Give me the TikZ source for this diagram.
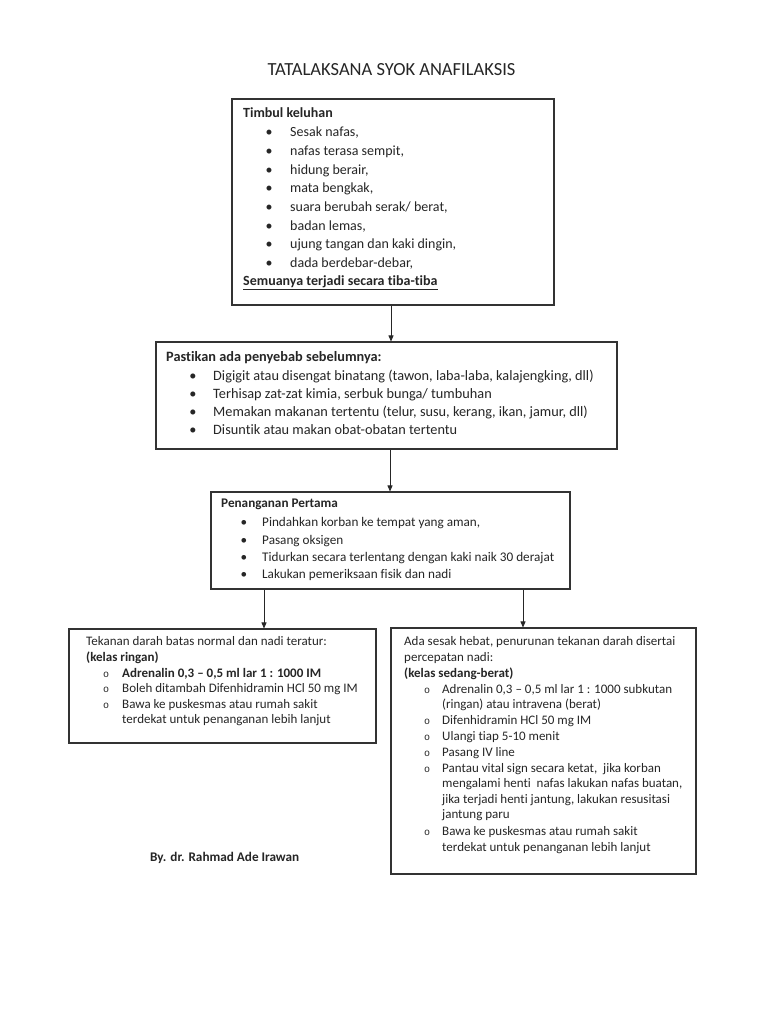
\documentclass[tikz,border=0pt]{standalone}
\usepackage{fontspec}
\setmainfont{Carlito}[Ligatures=NoCommon]
\newfontfamily\monof{Liberation Mono}
\usetikzlibrary{arrows.meta}
\tikzset{
  box/.style={draw=black!80, line width=1.1pt, fill=white, inner sep=0pt},
  txt/.style={anchor=base west, inner sep=0pt, text=black!85},
  bul/.style={anchor=base, inner sep=0pt, text=black!85},
  arr/.style={draw=black!85, line width=0.8pt, -{Triangle[length=6pt,width=5pt]}},
}
\newcommand\Ln[4]{\node[txt] (#1) at (#2,#3) {#4};}
\newcommand\Bl[5]{\node[bul] (#1b) at (#2,#4) {•}; \node[txt] (#1) at (#3,#4) {#5};}
\newcommand\Cl[5]{\node[bul] (#1b) at (#2,#4) {\monof\fontsize{10}{10}\selectfont o}; \node[txt] (#1) at (#3,#4) {#5};}
\begin{document}
\begin{tikzpicture}[x=1pt,y=-1pt]
\useasboundingbox[fill=white] (0,0) rectangle (768,1024);
% title
\node[anchor=base, inner sep=0pt, text=black!85] (title) at (391.5,76) {\fontsize{18.5}{22}\selectfont TATALAKSANA SYOK ANAFILAKSIS};
% boxes
\node[box, minimum width=322pt, minimum height=206pt] (b1) at (393,202) {};
\node[box, minimum width=461pt, minimum height=107pt] (b2) at (386.5,395.5) {};
\node[box, minimum width=359pt, minimum height=97pt] (b3) at (390.5,540.5) {};
\node[box, minimum width=307pt, minimum height=114pt] (b4) at (222.5,686) {};
\node[box, minimum width=305pt, minimum height=246pt] (b5) at (543.5,751) {};
% arrows
\coordinate (a1) at (391,0);
\coordinate (a2) at (390,0);
\coordinate (a3) at (264,0);
\coordinate (a4) at (523,0);
\draw[arr] (b1.south -| a1) -- (b2.north -| a1);
\draw[arr] (b2.south -| a2) -- (b3.north -| a2);
\draw[arr] (b3.south -| a3) -- (b4.north -| a3);
\draw[arr] (b3.south -| a4) -- (b5.north -| a4);
% box 1
\begin{scope}[font=\fontsize{14}{17}\selectfont]
\Ln{t1}{243}{118}{\bfseries Timbul keluhan}
\Bl{t1a}{269}{290}{137}{Sesak nafas,}
\Bl{t1b}{269}{290}{156}{nafas terasa sempit,}
\Bl{t1c}{269}{290}{174.5}{hidung berair,}
\Bl{t1d}{269}{290}{193}{mata bengkak,}
\Bl{t1e}{269}{290}{211.5}{suara berubah serak/ berat,}
\Bl{t1f}{269}{290}{230}{badan lemas,}
\Bl{t1g}{269}{290}{248.5}{ujung tangan dan kaki dingin,}
\Bl{t1h}{269}{290}{267}{dada berdebar-debar,}
\Ln{t1i}{243}{285}{\bfseries\underline{Semuanya terjadi secara tiba-tiba}}
\end{scope}
% box 2
\begin{scope}[font=\fontsize{14.3}{17}\selectfont]
\Ln{t2}{166}{361}{\bfseries Pastikan ada penyebab sebelumnya:}
\Bl{t2a}{193}{213}{380}{Digigit atau disengat binatang (tawon, laba-laba, kalajengking, dll)}
\Bl{t2b}{193}{213}{398}{Terhisap zat-zat kimia, serbuk bunga/ tumbuhan}
\Bl{t2c}{193}{213}{416}{Memakan makanan tertentu (telur, susu, kerang, ikan, jamur, dll)}
\Bl{t2d}{193}{213}{434}{Disuntik atau makan obat-obatan tertentu}
\end{scope}
% box 3
\begin{scope}[font=\fontsize{13.2}{16}\selectfont]
\Ln{t3}{221}{507}{\bfseries Penanganan Pertama}
\Bl{t3a}{244}{262}{526}{Pindahkan korban ke tempat yang aman,}
\Bl{t3b}{244}{262}{544}{Pasang oksigen}
\Bl{t3c}{244}{262}{561}{Tidurkan secara terlentang dengan kaki naik 30 derajat}
\Bl{t3d}{244}{262}{578}{Lakukan pemeriksaan fisik dan nadi}
\end{scope}
% box 4
\begin{scope}[font=\fontsize{13}{16}\selectfont]
\Ln{t4}{86}{645}{Tekanan darah batas normal dan nadi teratur:}
\Ln{t4k}{86}{661}{\bfseries (kelas ringan)}
\Cl{t4a}{106}{122}{677}{\bfseries Adrenalin 0,3 – 0,5 ml lar 1 : 1000 IM}
\Cl{t4b}{106}{122}{692.5}{Boleh ditambah Difenhidramin HCl 50 mg IM}
\Cl{t4c}{106}{122}{708}{Bawa ke puskesmas atau rumah sakit}
\Ln{t4d}{122}{723.5}{terdekat untuk penanganan lebih lanjut}
\end{scope}
% box 5
\begin{scope}[font=\fontsize{13}{16}\selectfont]
\Ln{t5}{404}{645}{Ada sesak hebat, penurunan tekanan darah disertai}
\Ln{t5p}{404}{661.5}{percepatan nadi:}
\Ln{t5k}{404}{677}{\bfseries (kelas sedang-berat)}
\Cl{t5a}{427}{442}{693}{Adrenalin 0,3 – 0,5 ml lar 1 : 1000 subkutan}
\Ln{t5a2}{442}{708.5}{(ringan) atau intravena (berat)}
\Cl{t5b}{427}{442}{724}{Difenhidramin HCl 50 mg IM}
\Cl{t5c}{427}{442}{740}{Ulangi tiap 5-10 menit}
\Cl{t5d}{427}{442}{756}{Pasang IV line}
\Cl{t5e}{427}{442}{772}{Pantau vital sign secara ketat,\ \ jika korban}
\Ln{t5e2}{442}{787.5}{mengalami henti\ \ nafas lakukan nafas buatan,}
\Ln{t5e3}{442}{803}{jika terjadi henti jantung, lakukan resusitasi}
\Ln{t5e4}{442}{818.5}{jantung paru}
\Cl{t5f}{427}{442}{835}{Bawa ke puskesmas atau rumah sakit}
\Ln{t5f2}{442}{851}{terdekat untuk penanganan lebih lanjut}
\end{scope}
% author
\node[txt] (author) at (150,861) {\fontsize{13.2}{16}\selectfont\bfseries By. dr. Rahmad Ade Irawan};
\end{tikzpicture}
\end{document}
